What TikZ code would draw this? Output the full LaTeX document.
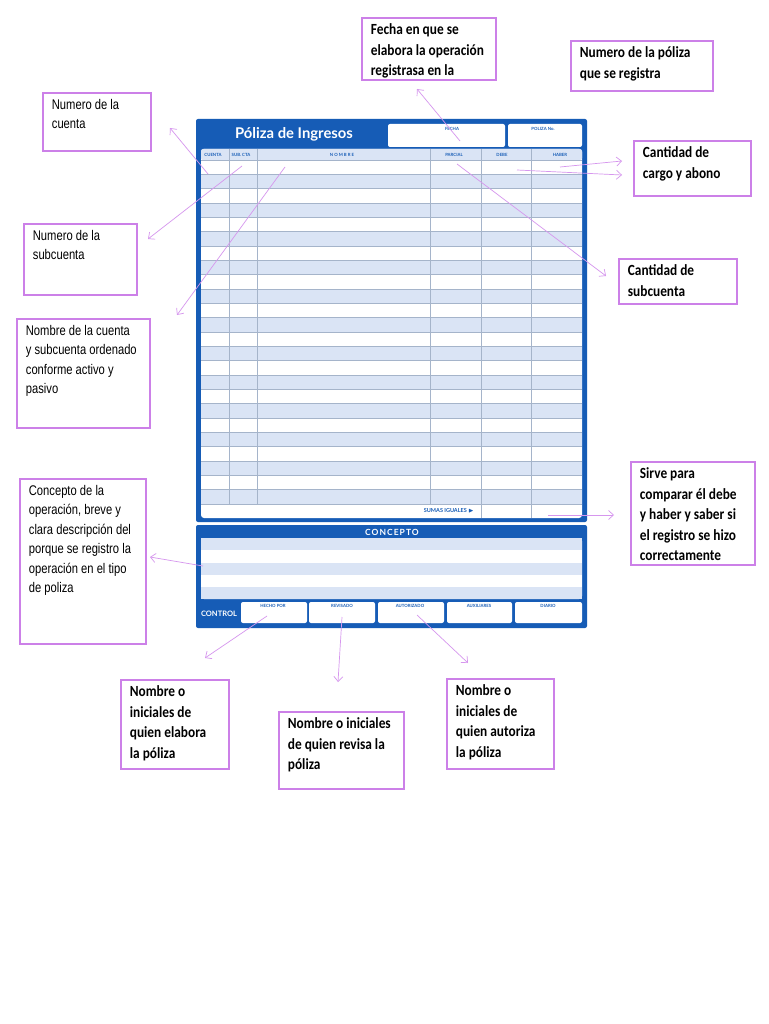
\documentclass[tikz,border=0pt]{standalone}
\usepackage{fontspec}
\usepackage{amssymb}
\usetikzlibrary{arrows.meta,positioning,calc}
\newfontfamily\calib[FakeStretch=0.86]{Carlito}
\newfontfamily\arialn[FakeStretch=0.8]{Liberation Sans}
\newfontfamily\formfont{Lato}
\newfontfamily\formwide[LetterSpace=12]{Lato}
\definecolor{formblue}{RGB}{22,92,182}
\definecolor{rowblue}{RGB}{218,228,245}
\definecolor{gridline}{RGB}{165,180,202}
\definecolor{boxviolet}{RGB}{204,128,232}
\definecolor{arrowviolet}{RGB}{214,150,238}

\tikzset{
  callout/.style={draw=boxviolet, line width=1.8pt, anchor=north west, inner xsep=9pt, inner ysep=6pt},
  boldcall/.style={callout, font=\calib\bfseries\fontsize{15.5}{20.5}\selectfont},
  narrowcall/.style={callout, font=\arialn\fontsize{14}{19.5}\selectfont},
  callarrow/.style={draw=arrowviolet, line width=0.7pt, -{Straight Barb[length=5pt,width=9pt]}},
  colname/.style={text=formblue, inner sep=0pt, font=\formfont\bfseries\fontsize{4.3}{4.5}\selectfont},
  whitebox/.style={fill=white, rounded corners=2pt},
}

\begin{document}
\begin{tikzpicture}[x=1pt,y=-1pt]
  \useasboundingbox[fill=white] (0,0) rectangle (768,1024);

  % upper form: rows and columns
  \fill[formblue, rounded corners=2pt] (196,119) rectangle (587,522);
  \fill[white, rounded corners=3pt] (201,149) rectangle (582,518);
  \fill[rowblue, rounded corners=2pt] (201,149) rectangle (582,160);
  \foreach \i in {1,3,...,23}
    \fill[rowblue] (201,{160+\i*14.333}) rectangle (582,{160+(\i+1)*14.333});
  \foreach \i in {0,...,24}
    \draw[gridline, line width=0.5pt] (201,{160+\i*14.333}) -- (582,{160+\i*14.333});
  \foreach \x in {229,257,430}
    \draw[gridline, line width=0.6pt] (\x,149) -- (\x,504);
  \foreach \x in {481,531}
    \draw[gridline, line width=0.6pt] (\x,149) -- (\x,518);
  \fill[whitebox] (388,124) rectangle (505,147);
  \fill[whitebox] (508,124) rectangle (582,147);

  \node[text=white, font=\formfont\bfseries\fontsize{14.8}{15}\selectfont] (titulo) at (294,134) {Póliza de Ingresos};
  \node[colname] (fecha-lbl) at (452,129) {FECHA};
  \node[colname] (poliza-lbl) at (543,129) {POLIZA No.};
  \node[colname] (cuenta-col) at (213,154.5) {CUENTA};
  \node[colname] (subcta-col) at (241,154.5) {SUB. CTA};
  \node[colname] (nombre-col) at (342,154.5) {N O M B R E};
  \node[colname] (parcial-col) at (454,154.5) {PARCIAL};
  \node[colname] (debe-col) at (502,154.5) {DEBE};
  \node[colname] (haber-col) at (560,154.5) {HABER};
  \node[text=formblue, font=\formfont\bfseries\fontsize{5.5}{6}\selectfont] (sumas-lbl) at (449,511) {SUMAS IGUALES $\blacktriangleright$};

  % lower form: concepto and control
  \fill[formblue, rounded corners=2pt] (196,525) rectangle (587,628);
  \fill[white, rounded corners=3pt] (201,538) rectangle (582,599);
  \foreach \y in {538,562.5,587}
    \fill[rowblue] (201,\y) rectangle (582,{\y+12.2});
  \node[text=white, font=\formwide\bfseries\fontsize{8.5}{9}\selectfont] (concepto-lbl) at (392,532) {CONCEPTO};
  \node[text=white, font=\formfont\bfseries\fontsize{7.5}{8}\selectfont] (control-lbl) at (219,614) {CONTROL};
  \foreach \a/\b in {241/307,309/375,378/444,447/512,515/582}
    \fill[whitebox] (\a,602) rectangle (\b,623);
  \node[colname] (hecho-lbl) at (273,606) {HECHO POR};
  \node[colname] (revisado-lbl) at (342,606) {REVISADO};
  \node[colname] (autorizado-lbl) at (410,606) {AUTORIZADO};
  \node[colname] (auxiliares-lbl) at (479,606) {AUXILIARES};
  \node[colname] (diario-lbl) at (548,606) {DIARIO};

  % callout boxes
  \node[boldcall] (fecha) at (361,17) {\parbox[t][50pt][t]{116pt}{\raggedright Fecha en que se\\ elabora la operación\\ registrasa en la}};
  \node[boldcall] (poliza) at (570,40) {\parbox[t][38pt][t]{124pt}{\raggedright Numero de la póliza\\ que se registra}};
  \node[narrowcall] (cuenta) at (42,92) {\parbox[t][46pt][t]{90pt}{\raggedright Numero de la\\ cuenta}};
  \node[narrowcall] (subcuenta) at (23,223) {\parbox[t][59pt][t]{95pt}{\raggedright Numero de la\\ subcuenta}};
  \node[narrowcall] (nombre) at (16,318) {\parbox[t][97pt][t]{115pt}{\raggedright Nombre de la cuenta\\ y subcuenta ordenado\\ conforme activo y\\ pasivo}};
  \node[narrowcall] (concepto) at (19,478) {\parbox[t][153pt][t]{108pt}{\raggedright Concepto de la\\ operación, breve y\\ clara descripción del\\ porque se registro la\\ operación en el tipo\\ de poliza}};
  \node[boldcall] (cargo) at (633,140) {\parbox[t][43pt][t]{99pt}{\raggedright Cantidad de\\ cargo y abono}};
  \node[boldcall] (parcial) at (618,258) {\parbox[t][33pt][t]{100pt}{\raggedright Cantidad de\\ subcuenta}};
  \node[boldcall] (sumas) at (630,461) {\parbox[t][91pt][t]{106pt}{\raggedright Sirve para\\ comparar él debe\\ y haber y saber si\\ el registro se hizo\\ correctamente}};
  \node[boldcall] (hecho) at (120,679) {\parbox[t][77pt][t]{90pt}{\raggedright Nombre o\\ iniciales de\\ quien elabora\\ la póliza}};
  \node[boldcall] (revisa) at (278,711) {\parbox[t][65pt][t]{107pt}{\raggedright Nombre o iniciales\\ de quien revisa la\\ póliza}};
  \node[boldcall] (autoriza) at (446,678) {\parbox[t][78pt][t]{89pt}{\raggedright Nombre o\\ iniciales de\\ quien autoriza\\ la póliza}};

  % arrow ends
  \coordinate (f1) at (460,141);   \coordinate (t1) at (417,89);
  \coordinate (f2) at (208,174);   \coordinate (t2) at (170,128);
  \coordinate (f3) at (242,166);   \coordinate (t3) at (148,239);
  \coordinate (f4) at (285,167);   \coordinate (t4) at (177,315);
  \coordinate (f5) at (203,566);   \coordinate (t5) at (150,557);
  \coordinate (f6) at (560,167);   \coordinate (t6) at (622,161);
  \coordinate (f7) at (517,170);   \coordinate (t7) at (622,175);
  \coordinate (f8) at (457,164);   \coordinate (t8) at (606,276);
  \coordinate (f9) at (548,515);   \coordinate (t9) at (614,515);
  \coordinate (f10) at (267,616);  \coordinate (t10) at (205,658);
  \coordinate (f11) at (342,617);  \coordinate (t11) at (338,682);
  \coordinate (f12) at (417,615);  \coordinate (t12) at (468,663);
  \foreach \i in {1,...,12}
    \draw[callarrow] (f\i) -- (t\i);
\end{tikzpicture}
\end{document}
